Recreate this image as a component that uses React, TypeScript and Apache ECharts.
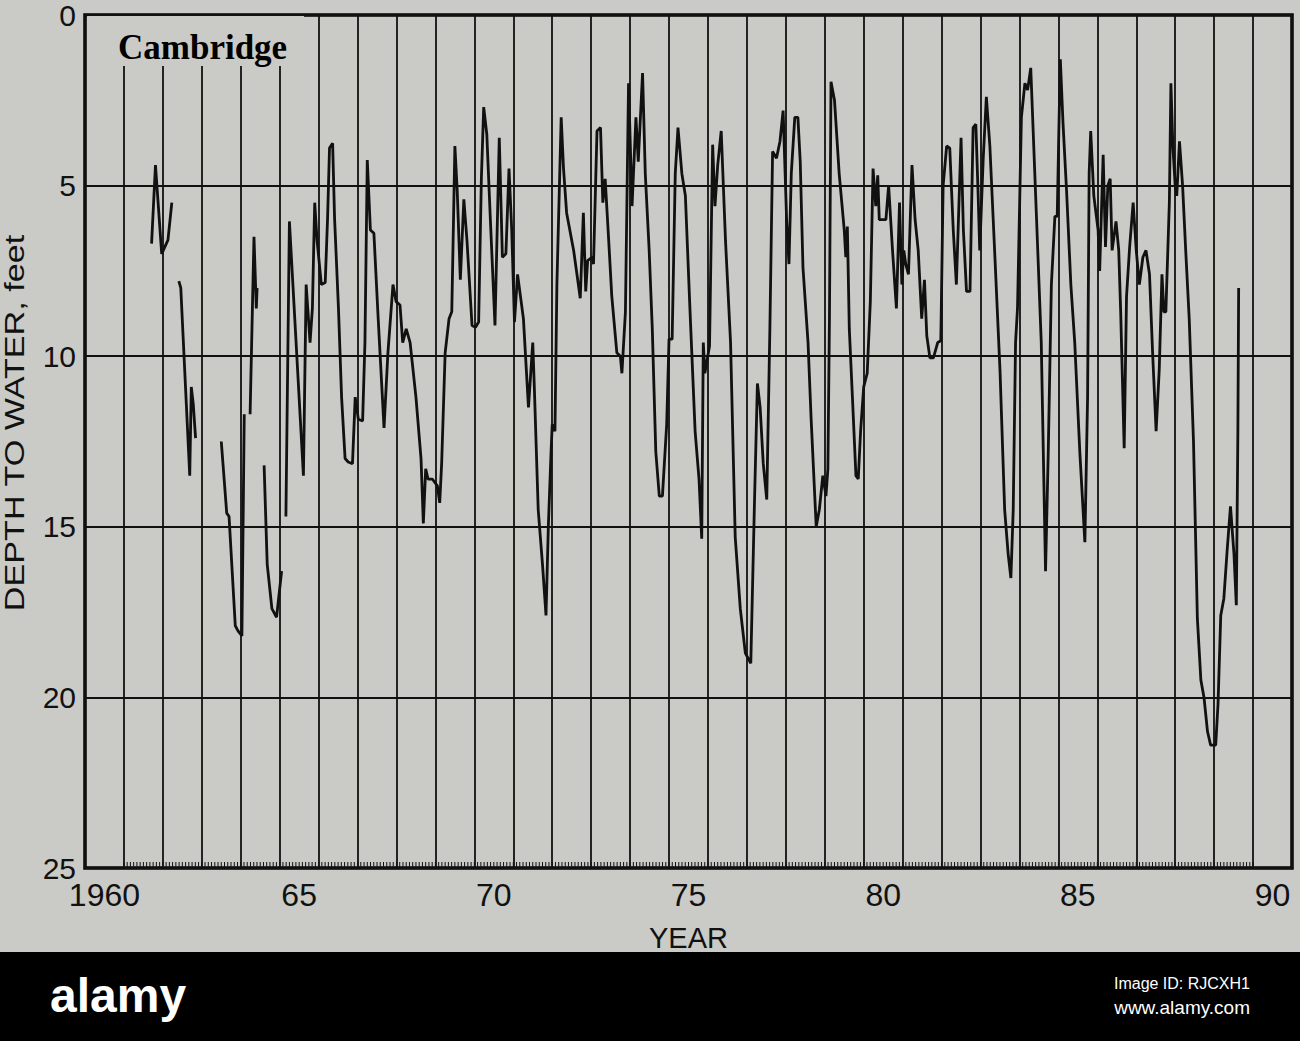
import React, { useEffect, useRef } from "react";
import * as echarts from "echarts";

// Depth to water (feet below land surface) at Cambridge, by decimal year.
const segA: [number, number][] = [
  [1961.71, 6.7], [1961.81, 4.4], [1961.97, 7.0], [1962.13, 6.6], [1962.23, 5.5],
];
const segB: [number, number][] = [
  [1962.41, 7.8], [1962.46, 8.0], [1962.69, 13.5], [1962.73, 10.9], [1962.78, 11.4], [1962.84, 12.4],
];
const segC: [number, number][] = [
  [1963.5, 12.5], [1963.64, 14.6], [1963.7, 14.7], [1963.86, 17.9], [1963.93, 18.05],
  [1964.03, 18.2], [1964.09, 11.7],
];
const segD: [number, number][] = [
  [1964.24, 11.7], [1964.34, 6.5], [1964.4, 8.6], [1964.42, 8.0],
];
const segE: [number, number][] = [
  [1964.6, 13.2], [1964.68, 16.1], [1964.8, 17.4], [1964.92, 17.65], [1965.05, 16.3],
];
const segF: [number, number][] = [
  [1965.16, 14.7], [1965.25, 6.05], [1965.61, 13.5], [1965.68, 7.9], [1965.78, 9.6], [1965.84, 8.6],
  [1965.9, 5.5], [1965.96, 6.6], [1966.07, 7.9], [1966.17, 7.84], [1966.23, 5.96], [1966.28, 3.9],
  [1966.36, 3.76], [1966.41, 5.96], [1966.51, 8.6], [1966.59, 11.2], [1966.68, 13.0], [1966.76, 13.1],
  [1966.87, 13.15], [1966.94, 11.2], [1967.02, 11.85], [1967.13, 11.9], [1967.19, 9.6], [1967.25, 4.25],
  [1967.33, 6.3], [1967.42, 6.4], [1967.53, 8.9], [1967.68, 12.1], [1967.78, 9.9], [1967.91, 7.9],
  [1967.99, 8.4], [1968.09, 8.5], [1968.16, 9.6], [1968.25, 9.2], [1968.35, 9.6], [1968.5, 11.2],
  [1968.63, 13.0], [1968.69, 14.9], [1968.75, 13.3], [1968.81, 13.6], [1968.92, 13.6], [1969.05, 13.8],
  [1969.11, 14.3], [1969.16, 13.15], [1969.25, 9.9], [1969.35, 8.9], [1969.42, 8.7], [1969.45, 6.9],
  [1969.5, 3.84], [1969.56, 5.15], [1969.64, 7.76], [1969.73, 5.4], [1969.81, 6.6], [1969.94, 9.1],
  [1970.03, 9.15], [1970.11, 9.0], [1970.18, 4.8], [1970.24, 2.7], [1970.32, 3.5], [1970.41, 5.96],
  [1970.53, 9.1], [1970.64, 3.6], [1970.72, 7.1], [1970.81, 7.0], [1970.89, 4.5], [1970.96, 6.3],
  [1971.03, 9.0], [1971.11, 7.6], [1971.26, 8.9], [1971.39, 11.5], [1971.5, 9.6], [1971.54, 10.9],
  [1971.64, 14.5], [1971.75, 16.1], [1971.84, 17.6], [1971.9, 15.0], [1971.97, 12.8], [1972.0, 12.0],
  [1972.07, 12.2], [1972.12, 7.9], [1972.23, 3.0], [1972.29, 4.5], [1972.37, 5.8], [1972.55, 6.9],
  [1972.72, 8.3], [1972.8, 5.8], [1972.86, 8.1], [1972.91, 7.2], [1973.02, 7.1], [1973.06, 7.3],
  [1973.15, 3.4], [1973.24, 3.3], [1973.3, 5.5], [1973.36, 4.8], [1973.45, 6.6], [1973.53, 8.25],
  [1973.66, 9.9], [1973.75, 10.0], [1973.79, 10.5], [1973.88, 8.7], [1973.96, 2.0], [1974.05, 5.6],
  [1974.15, 3.0], [1974.21, 4.3], [1974.32, 1.7], [1974.39, 4.65], [1974.49, 6.9], [1974.57, 9.2],
  [1974.66, 12.8], [1974.75, 14.1], [1974.83, 14.1], [1974.94, 12.0], [1975.0, 9.5], [1975.08, 9.5],
  [1975.16, 4.65], [1975.23, 3.3], [1975.33, 4.65], [1975.42, 5.3], [1975.54, 8.7], [1975.67, 12.2],
  [1975.77, 13.6], [1975.84, 15.35], [1975.88, 9.6], [1975.92, 10.5], [1976.04, 9.7], [1976.12, 3.8],
  [1976.18, 5.6], [1976.25, 4.4], [1976.34, 3.4], [1976.45, 6.6], [1976.58, 9.6], [1976.7, 15.3],
  [1976.83, 17.4], [1976.96, 18.7], [1977.1, 19.0], [1977.19, 14.5], [1977.27, 10.8], [1977.34, 11.5],
  [1977.42, 13.15], [1977.51, 14.2], [1977.59, 9.2], [1977.66, 4.0], [1977.76, 4.2], [1977.85, 3.7],
  [1977.93, 2.8], [1978.02, 6.0], [1978.08, 7.3], [1978.14, 4.65], [1978.23, 3.0], [1978.31, 3.0],
  [1978.37, 4.3], [1978.44, 7.4], [1978.57, 9.6], [1978.65, 11.85], [1978.78, 15.0], [1978.86, 14.5],
  [1978.95, 13.5], [1979.03, 14.1], [1979.08, 13.3], [1979.12, 8.9], [1979.16, 1.96], [1979.25, 2.5],
  [1979.37, 4.65], [1979.5, 6.3], [1979.54, 7.1], [1979.58, 6.2], [1979.63, 9.2], [1979.71, 11.2],
  [1979.8, 13.5], [1979.86, 13.6], [1979.92, 12.2], [1980.0, 10.9], [1980.09, 10.5], [1980.17, 8.4],
  [1980.24, 4.5], [1980.31, 5.6], [1980.36, 4.7], [1980.4, 6.0], [1980.48, 6.0], [1980.57, 6.0],
  [1980.64, 5.0], [1980.74, 6.9], [1980.84, 8.6], [1980.92, 5.5], [1980.98, 7.9], [1981.03, 6.9],
  [1981.08, 7.3], [1981.15, 7.6], [1981.24, 4.4], [1981.32, 6.0], [1981.4, 6.9], [1981.49, 8.9],
  [1981.56, 7.76], [1981.62, 9.4], [1981.7, 10.05], [1981.79, 10.05], [1981.9, 9.6], [1981.98, 9.55],
  [1982.04, 5.0], [1982.13, 3.84], [1982.21, 3.9], [1982.3, 6.3], [1982.38, 7.9], [1982.5, 3.6],
  [1982.56, 6.3], [1982.64, 8.1], [1982.73, 8.1], [1982.81, 3.3], [1982.88, 3.2], [1982.94, 5.3],
  [1982.98, 6.9], [1983.07, 4.2], [1983.15, 2.4], [1983.24, 3.84], [1983.37, 7.1], [1983.5, 10.4],
  [1983.62, 14.5], [1983.71, 15.8], [1983.78, 16.5], [1983.84, 14.5], [1983.9, 9.6], [1983.95, 8.6],
  [1984.05, 3.0], [1984.14, 2.0], [1984.21, 2.2], [1984.29, 1.55], [1984.44, 6.0], [1984.56, 9.6],
  [1984.67, 16.3], [1984.74, 12.8], [1984.82, 7.9], [1984.91, 5.9], [1984.97, 5.9], [1985.01, 3.5],
  [1985.05, 1.3], [1985.12, 3.2], [1985.21, 5.15], [1985.32, 7.9], [1985.42, 9.6], [1985.55, 12.8],
  [1985.68, 15.45], [1985.75, 11.2], [1985.79, 4.65], [1985.83, 3.4], [1985.91, 5.3], [1986.02, 6.3],
  [1986.06, 7.5], [1986.15, 4.1], [1986.21, 6.8], [1986.27, 5.0], [1986.33, 4.8], [1986.38, 6.9],
  [1986.48, 6.05], [1986.55, 6.9], [1986.6, 8.7], [1986.69, 12.7], [1986.75, 8.25], [1986.83, 6.8],
  [1986.92, 5.5], [1987.0, 6.9], [1987.08, 7.9], [1987.17, 7.1], [1987.25, 6.9], [1987.34, 7.6],
  [1987.42, 9.9], [1987.51, 12.2], [1987.59, 10.4], [1987.66, 7.6], [1987.71, 8.7], [1987.76, 8.7],
  [1987.85, 5.5], [1987.89, 2.0], [1987.94, 3.84], [1988.0, 5.0], [1988.04, 5.3], [1988.11, 3.7],
  [1988.19, 5.0], [1988.27, 6.9], [1988.36, 8.9], [1988.47, 12.5], [1988.57, 17.7], [1988.66, 19.5],
  [1988.74, 20.0], [1988.83, 21.0], [1988.91, 21.4], [1989.04, 21.4], [1989.1, 20.2], [1989.17, 17.6],
  [1989.25, 17.1], [1989.34, 15.6], [1989.42, 14.4], [1989.51, 15.8], [1989.57, 17.3], [1989.61, 12.2],
  [1989.63, 8.0],
];
const segments = [segA, segB, segC, segD, segE, segF];

const yearCategories: string[] = [];
for (let y = 1960; y <= 1990; y++) yearCategories.push(String(y));

const monthTicks: number[] = [];
for (let y = 1961; y < 1990; y++) for (let m = 0; m < 12; m++) monthTicks.push(y + m / 12);
monthTicks.push(1990);

const BG = "#cacac6";
const INK = "#111111";
const SANS = "'Liberation Sans', Arial, Helvetica, sans-serif";

export default function App() {
  const ref = useRef<HTMLDivElement>(null);
  useEffect(() => {
    if (!ref.current) return;
    const chart = echarts.init(ref.current, null, { renderer: "svg" });
    const lineSeries = segments.map((seg) => ({
      type: "line",
      xAxisIndex: 0,
      yAxisIndex: 0,
      data: seg,
      showSymbol: false,
      symbol: "none",
      lineStyle: { color: INK, width: 2.8 },
      z: 5,
      silent: true,
    }));
    chart.setOption({
      animation: false,
      backgroundColor: BG,
      grid: {
        left: 85,
        right: 8,
        top: 9,
        bottom: 173,
        show: true,
        borderColor: "#000",
        borderWidth: 3.5,
        backgroundColor: "transparent",
      },
      xAxis: [
        {
          type: "value",
          min: 1960,
          max: 1991,
          interval: 1,
          axisLine: { show: false },
          axisTick: { show: false },
          axisLabel: { show: false },
          splitLine: { show: true, lineStyle: { color: INK, width: 1.8 } },
        },
        {
          type: "category",
          data: yearCategories,
          boundaryGap: true,
          position: "bottom",
          axisLine: { show: false },
          axisTick: { show: false },
          splitLine: { show: false },
          axisLabel: {
            interval: 4,
            margin: 11,
            fontSize: 32,
            fontFamily: SANS,
            color: INK,
            formatter: (v: string, i: number) => (i === 0 ? v : v.slice(2)),
          },
          name: "YEAR",
          nameLocation: "middle",
          nameGap: 55,
          nameTextStyle: { fontSize: 29, fontFamily: SANS, color: INK },
        },
      ],
      yAxis: {
        type: "value",
        inverse: true,
        min: 0,
        max: 25,
        interval: 5,
        axisLine: { show: false },
        axisTick: { show: false },
        axisLabel: { fontSize: 30, fontFamily: SANS, color: INK, margin: 9 },
        splitLine: { show: true, lineStyle: { color: INK, width: 1.8 } },
      },
      series: [
        ...lineSeries,
        {
          type: "custom",
          xAxisIndex: 0,
          yAxisIndex: 0,
          silent: true,
          data: monthTicks.map((v) => [v, 25]),
          renderItem: (params: any, api: any) => {
            const p = api.coord([api.value(0), api.value(1)]);
            return {
              type: "line",
              shape: { x1: p[0], y1: p[1], x2: p[0], y2: p[1] - 6 },
              style: { stroke: INK, lineWidth: 1 },
            };
          },
          z: 3,
        },
      ],
      graphic: [
        {
          type: "rect",
          shape: { x: 87, y: 16, width: 217, height: 50 },
          style: { fill: BG },
          z: 50,
          silent: true,
        },
        {
          type: "text",
          x: 118,
          y: 47,
          z: 51,
          silent: true,
          style: {
            text: "Cambridge",
            font: "bold 35px 'Liberation Serif', 'Times New Roman', serif",
            fill: "#000",
            verticalAlign: "middle",
          },
        },
        {
          type: "text",
          x: 15,
          y: 423,
          rotation: Math.PI / 2,
          scaleX: 1.22,
          z: 51,
          silent: true,
          style: {
            text: "DEPTH TO WATER, feet",
            font: `28px ${SANS}`,
            fill: INK,
            align: "center",
            verticalAlign: "middle",
          },
        },
        {
          type: "rect",
          shape: { x: 0, y: 952, width: 1300, height: 89 },
          style: { fill: "#000" },
          z: 60,
          silent: true,
        },
        {
          type: "text",
          x: 50,
          y: 995,
          z: 61,
          silent: true,
          style: {
            text: "alamy",
            font: "bold 48px 'Liberation Sans Narrow', 'Liberation Sans', Arial, sans-serif",
            fill: "#fff",
            verticalAlign: "middle",
          },
        },
        {
          type: "text",
          x: 1250,
          y: 983,
          z: 61,
          silent: true,
          style: {
            text: "Image ID: RJCXH1",
            font: "16px 'Liberation Sans Narrow', 'Liberation Sans', Arial, sans-serif",
            fill: "#fff",
            align: "right",
            verticalAlign: "middle",
          },
        },
        {
          type: "text",
          x: 1250,
          y: 1007,
          z: 61,
          silent: true,
          style: {
            text: "www.alamy.com",
            font: "19px 'Liberation Sans Narrow', 'Liberation Sans', Arial, sans-serif",
            fill: "#fff",
            align: "right",
            verticalAlign: "middle",
          },
        },
      ],
    });
    return () => chart.dispose();
  }, []);
  return (
    <div
      ref={ref}
      style={{ position: "fixed", left: 0, top: 0, width: 1300, height: 1041 }}
    />
  );
}
